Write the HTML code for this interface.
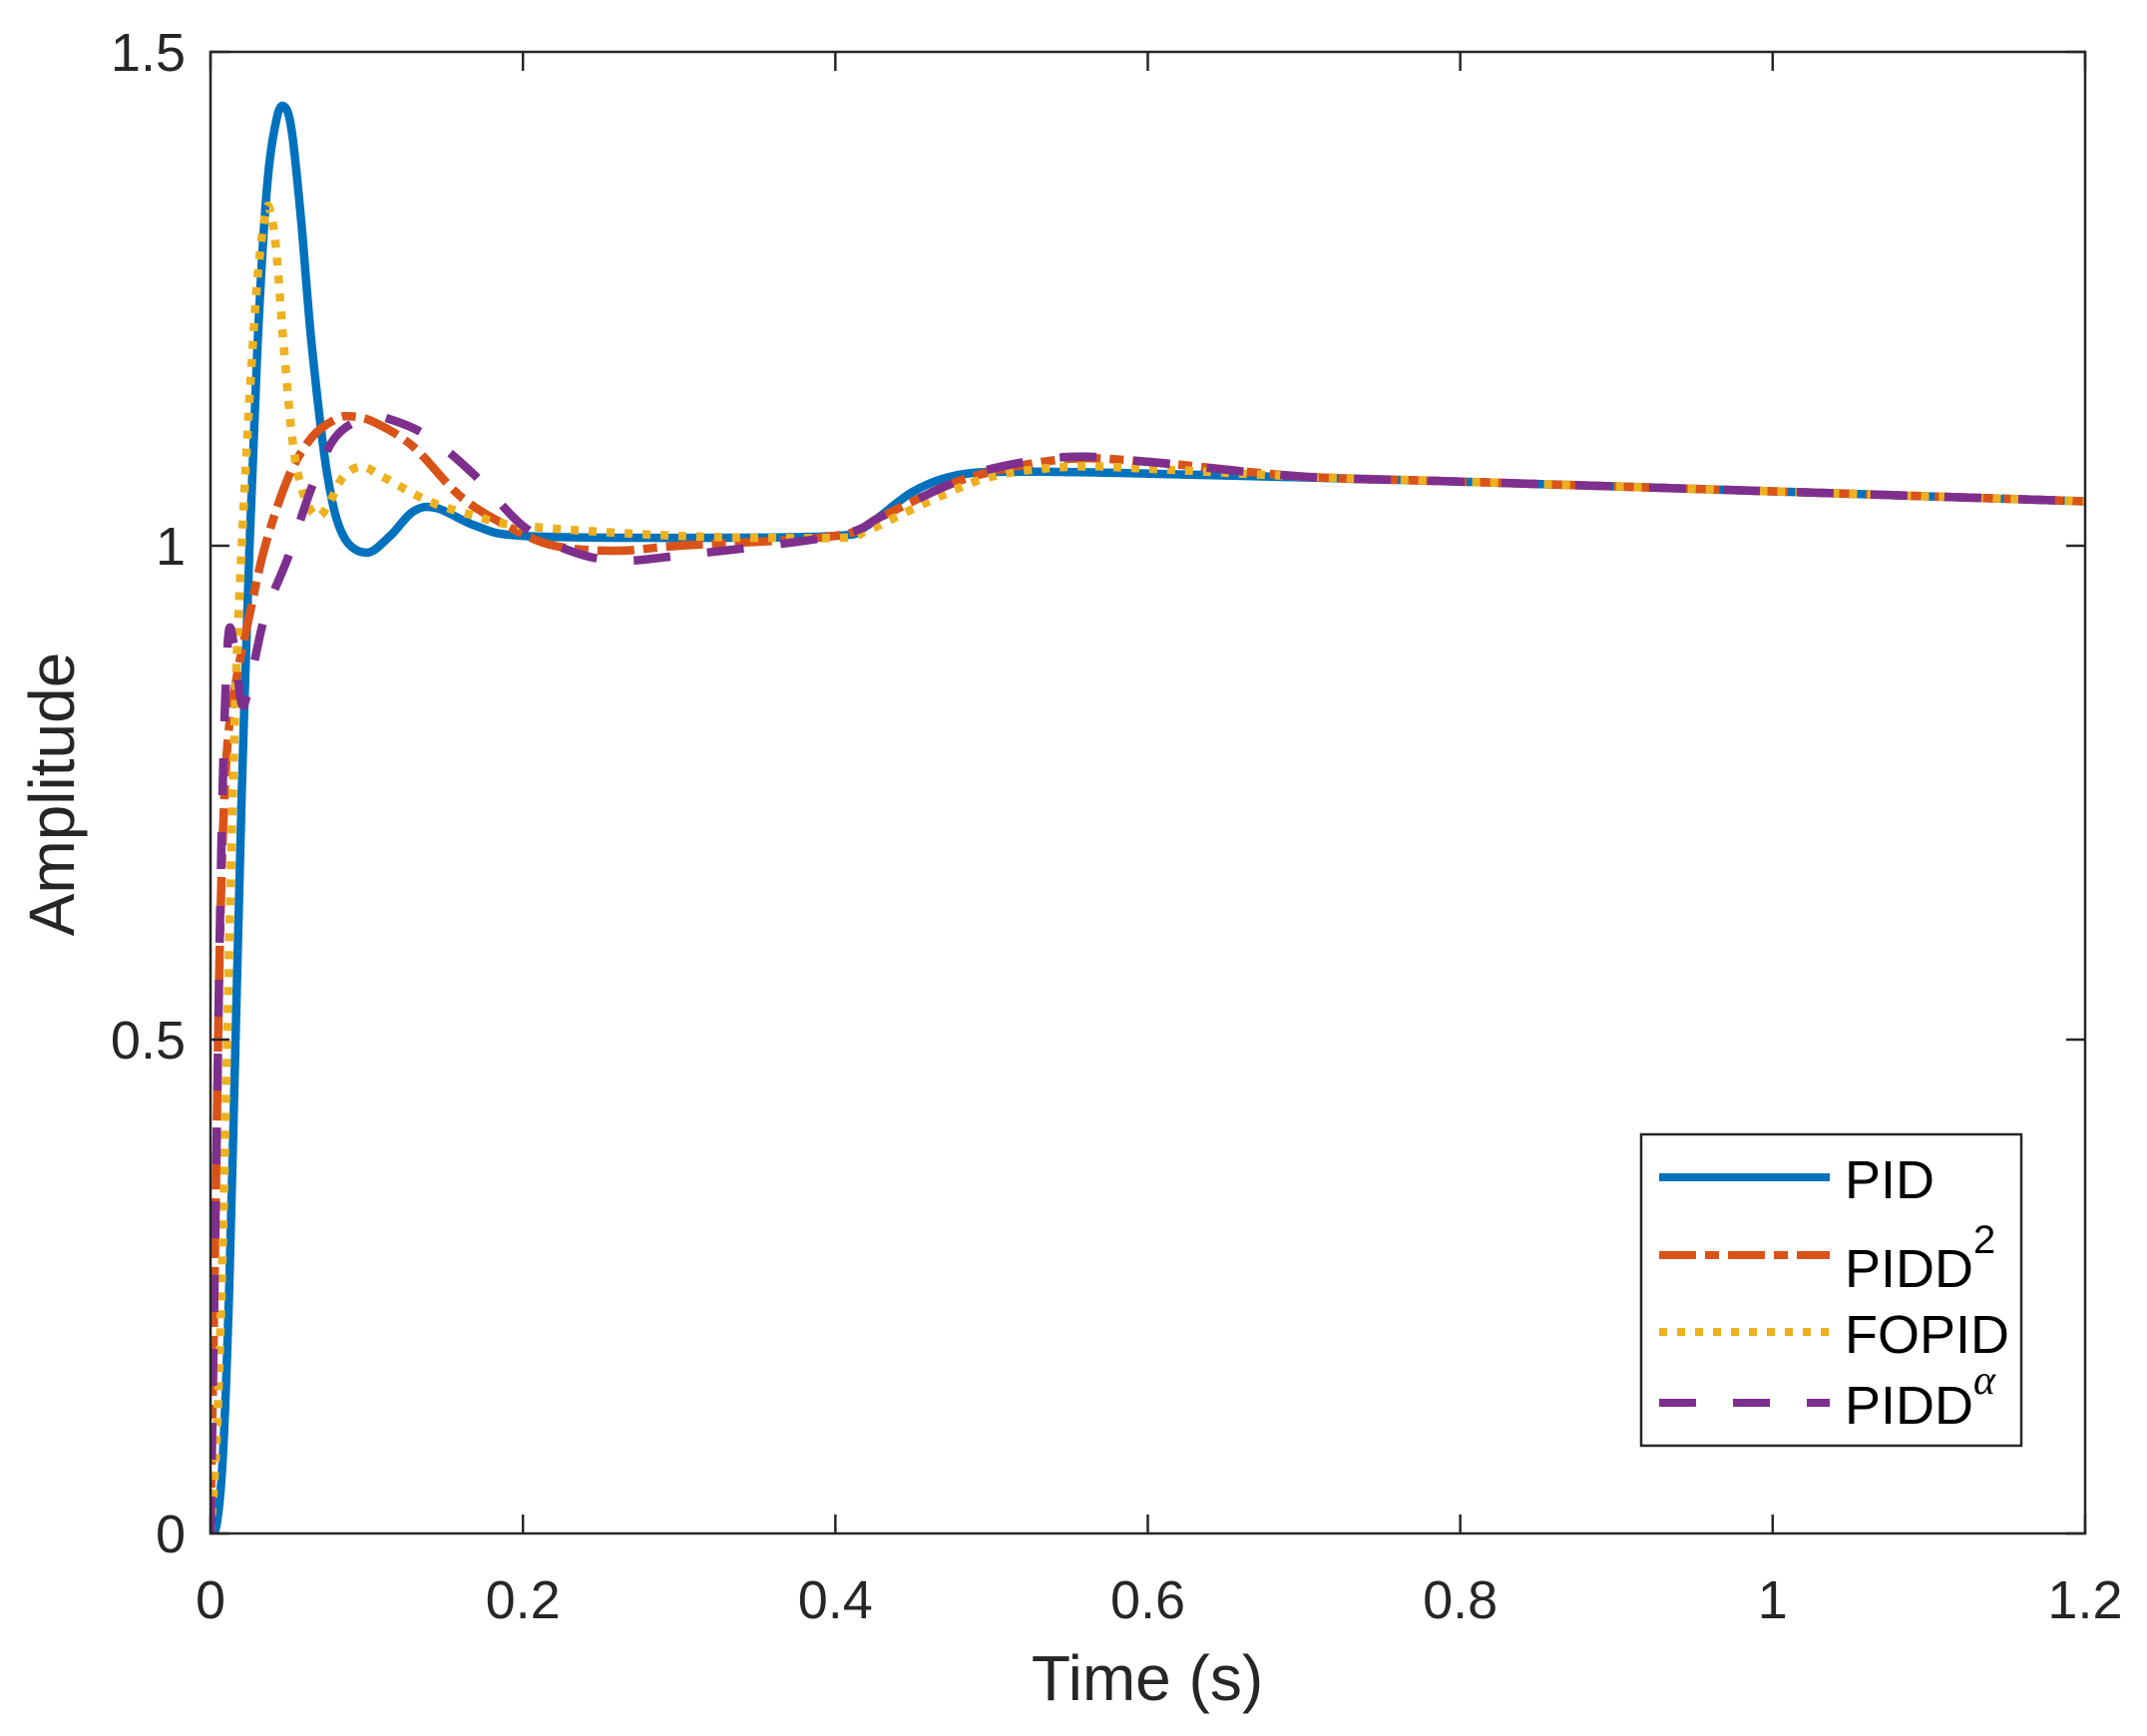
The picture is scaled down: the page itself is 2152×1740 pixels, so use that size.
<!DOCTYPE html>
<html><head><meta charset="utf-8"><style>
html,body{margin:0;padding:0;background:#fff;}
svg{display:block;}
text{font-family:"Liberation Sans",sans-serif;fill:#262626;}
</style></head><body>
<svg id="s" width="2152" height="1740" viewBox="0 0 2152 1740" xmlns="http://www.w3.org/2000/svg">
<defs><clipPath id="c"><rect x="211" y="52" width="1879" height="1485"/></clipPath></defs>
<g id="curves" clip-path="url(#c)" fill="none" stroke-width="8.5" stroke-linejoin="round"></g>
<rect x="211" y="52" width="1879" height="1485" fill="none" stroke="#262626" stroke-width="2.5"/>
<g id="ticks" stroke="#262626" stroke-width="2.5"></g>
<g id="labels" font-size="54"></g>
<text x="1150" y="1704" font-size="64" text-anchor="middle">Time (s)</text>
<text transform="translate(74,796) rotate(-90)" font-size="64" text-anchor="middle">Amplitude</text>
<rect x="1645" y="1137" width="381" height="312" fill="#fff" stroke="#262626" stroke-width="2.5"/>
<line x1="1663" y1="1180" x2="1834" y2="1180" stroke="#0072BD" stroke-width="8"/>
<line x1="1663" y1="1258" x2="1834" y2="1258" stroke="#D95319" stroke-width="8" stroke-dasharray="37 9 14 9"/>
<line x1="1663" y1="1335" x2="1834" y2="1335" stroke="#EDB120" stroke-width="8" stroke-dasharray="8 10"/>
<line x1="1663" y1="1406" x2="1834" y2="1406" stroke="#7E2F8E" stroke-width="8" stroke-dasharray="37 37"/>
<g font-size="54">
<text x="1849" y="1201" style="fill:#000">PID</text>
<text x="1849" y="1290" style="fill:#000">PIDD<tspan font-size="40" dy="-34">2</tspan></text>
<text x="1849" y="1356" style="fill:#000">FOPID</text>
<text x="1849" y="1427" style="fill:#000">PIDD<tspan font-size="42" dy="-30" font-family="Liberation Serif" font-style="italic">α</tspan></text>
</g>
</svg>
<script>
var X=function(t){return 211+t*1565.8},Y=function(a){return 1537-a*990};
var data={
b:[[0,0],[0.004,0.01],[0.008,0.08],[0.012,0.25],[0.016,0.5],[0.02,0.75],[0.025,1.0],[0.03,1.2],[0.036,1.36],[0.042,1.43],[0.047,1.445],[0.052,1.42],[0.058,1.33],[0.065,1.2],[0.075,1.07],[0.085,1.01],[0.1,0.993],[0.115,1.01],[0.13,1.035],[0.145,1.038],[0.17,1.02],[0.2,1.01],[0.3,1.008],[0.4,1.01],[0.42,1.02],[0.45,1.055],[0.48,1.072],[0.52,1.075],[0.6,1.073],[0.8,1.065],[1.0,1.055],[1.2,1.045]],
o:[[0,0],[0.003,0.3],[0.006,0.6],[0.01,0.78],[0.016,0.86],[0.025,0.93],[0.035,1.0],[0.05,1.07],[0.065,1.11],[0.08,1.128],[0.09,1.131],[0.105,1.125],[0.13,1.1],[0.16,1.05],[0.19,1.02],[0.22,1.0],[0.26,0.995],[0.3,1.0],[0.4,1.01],[0.43,1.03],[0.47,1.06],[0.5,1.075],[0.55,1.088],[0.6,1.085],[0.7,1.07],[0.8,1.065],[1.0,1.055],[1.2,1.045]],
y:[[0,0],[0.004,0.1],[0.008,0.3],[0.012,0.6],[0.016,0.85],[0.02,1.0],[0.025,1.15],[0.03,1.27],[0.035,1.335],[0.038,1.34],[0.042,1.3],[0.047,1.2],[0.053,1.1],[0.06,1.05],[0.068,1.03],[0.075,1.04],[0.085,1.07],[0.097,1.08],[0.11,1.07],[0.14,1.045],[0.17,1.03],[0.2,1.02],[0.3,1.01],[0.4,1.008],[0.42,1.015],[0.46,1.045],[0.5,1.07],[0.55,1.08],[0.6,1.078],[0.7,1.07],[0.8,1.065],[1.0,1.055],[1.2,1.045]],
p:[[0,0],[0.003,0.3],[0.007,0.7],[0.011,0.9],[0.015,0.9],[0.02,0.84],[0.025,0.86],[0.035,0.93],[0.05,0.99],[0.065,1.06],[0.08,1.11],[0.1,1.13],[0.115,1.128],[0.14,1.11],[0.17,1.07],[0.2,1.02],[0.23,0.995],[0.26,0.985],[0.3,0.99],[0.4,1.01],[0.43,1.03],[0.47,1.06],[0.5,1.078],[0.55,1.09],[0.6,1.085],[0.7,1.07],[0.8,1.065],[1.0,1.055],[1.2,1.045]]};
function path(d){var p=d.map(function(q){return [X(q[0]),Y(q[1])]});var s="M"+p[0][0]+","+p[0][1];
for(var i=0;i<p.length-1;i++){var p0=p[i-1]||p[i],p1=p[i],p2=p[i+1],p3=p[i+2]||p2;
var c1=[p1[0]+(p2[0]-p0[0])/6,p1[1]+(p2[1]-p0[1])/6],c2=[p2[0]-(p3[0]-p1[0])/6,p2[1]-(p3[1]-p1[1])/6];
s+="C"+c1[0].toFixed(1)+","+c1[1].toFixed(1)+" "+c2[0].toFixed(1)+","+c2[1].toFixed(1)+" "+p2[0].toFixed(1)+","+p2[1].toFixed(1);}return s;}
var NS="http://www.w3.org/2000/svg",g=document.getElementById("curves");
[["b","#0072BD",""],["o","#D95319","37 9 14 9"],["y","#EDB120","8 10"],["p","#7E2F8E","37 37"]].forEach(function(c){
var e=document.createElementNS(NS,"path");e.setAttribute("d",path(data[c[0]]));e.setAttribute("stroke",c[1]);if(c[2])e.setAttribute("stroke-dasharray",c[2]);g.appendChild(e);});
var tk=document.getElementById("ticks"),lb=document.getElementById("labels");
function ln(a,b,c,d){var e=document.createElementNS(NS,"line");e.setAttribute("x1",a);e.setAttribute("y1",b);e.setAttribute("x2",c);e.setAttribute("y2",d);tk.appendChild(e);}
function tx(x,y,s,anc){var e=document.createElementNS(NS,"text");e.setAttribute("x",x);e.setAttribute("y",y);e.setAttribute("text-anchor",anc);e.textContent=s;lb.appendChild(e);}
["0","0.2","0.4","0.6","0.8","1","1.2"].forEach(function(s,i){var x=X(i*0.2);ln(x,1537,x,1518);ln(x,52,x,71);tx(x,1622,s,"middle");});
["0","0.5","1","1.5"].forEach(function(s,i){var y=Y(i*0.5);ln(211,y,230,y);ln(2090,y,2071,y);tx(186,y+19,s,"end");});
</script>
</body></html>
